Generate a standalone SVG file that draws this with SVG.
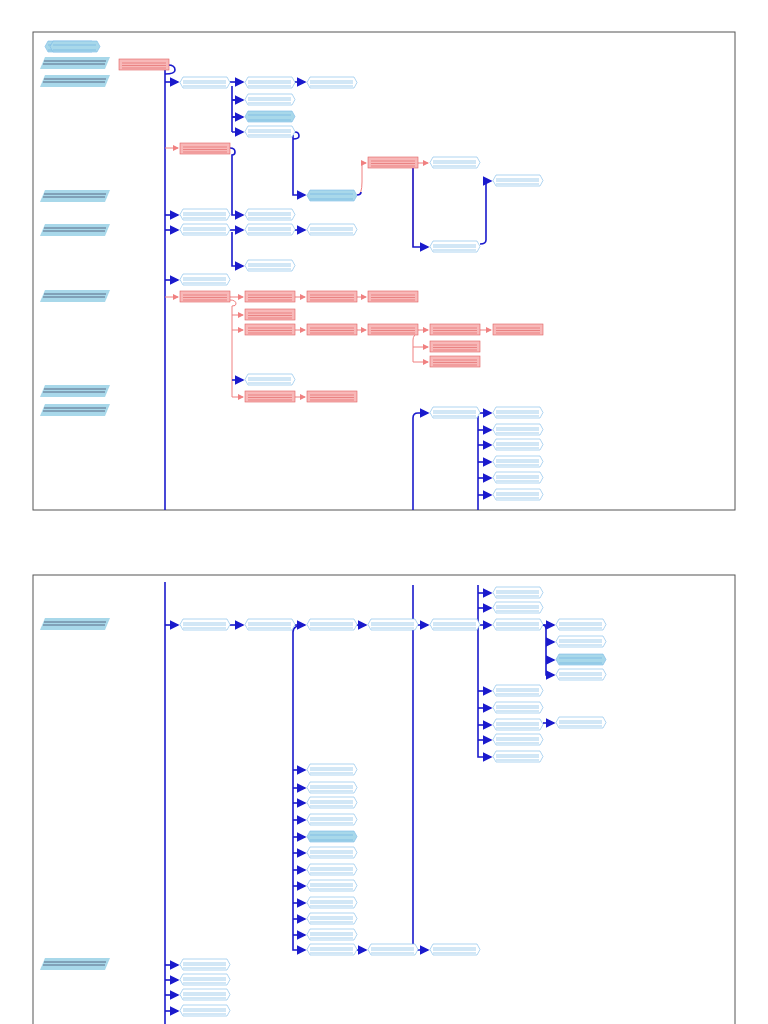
<svg xmlns="http://www.w3.org/2000/svg" xmlns:xlink="http://www.w3.org/1999/xlink" width="768" height="1024" viewBox="0 0 768 1024">
<style>
.pg{fill:#fff;stroke:#555;stroke-width:1}
.b{stroke:#1a1acc;stroke-width:1.6;fill:none}
.r{stroke:#f08080;stroke-width:1;fill:none}
.ln{stroke:#6ab0e0;stroke-width:0.6}
.rl{stroke:#e06060;stroke-width:0.6}
</style>
<defs>
<marker id="ab" markerWidth="6" markerHeight="6" refX="5" refY="3" orient="auto"><path d="M0,0L6,3L0,6z" fill="#1a1acc"/></marker>
<marker id="ar" markerWidth="6" markerHeight="6" refX="5" refY="3" orient="auto"><path d="M0,0L6,3L0,6z" fill="#f08080"/></marker>
<symbol id="hb" overflow="visible"><path d="M3,0H47L50,5.5L47,11H3L0,5.5z" fill="#fff" stroke="#7ab8e8" stroke-width="0.6"/><line x1="3" y1="4" x2="46" y2="4" class="ln"/><line x1="3" y1="6" x2="46" y2="6" class="ln"/><line x1="3" y1="9" x2="46" y2="9" class="ln"/></symbol>
<symbol id="hf" overflow="visible"><path d="M3,0H47L50,5.5L47,11H3L0,5.5z" fill="#a8d8ea" stroke="#7ab8e8" stroke-width="0.6"/><line x1="3" y1="4" x2="46" y2="4" class="ln"/><line x1="3" y1="9" x2="46" y2="9" class="ln"/></symbol>
<symbol id="rr" overflow="visible"><rect width="50" height="11" fill="#f8b8b8" stroke="#e06060" stroke-width="0.6"/><line x1="3" y1="4" x2="47" y2="4" class="rl"/><line x1="3" y1="6.5" x2="47" y2="6.5" class="rl"/><line x1="3" y1="9" x2="47" y2="9" class="rl"/></symbol>
<symbol id="pl" overflow="visible"><path d="M5,0H70L65,12H0z" fill="#a8d8ea"/><line x1="4" y1="4" x2="66" y2="4" stroke="#224" stroke-width="0.6"/><line x1="3" y1="7" x2="65" y2="7" stroke="#224" stroke-width="0.6"/></symbol>
</defs>
<rect width="768" height="1024" fill="#fff"/>
<rect x="33" y="32" width="702" height="478" class="pg"/>
<rect x="33" y="575" width="702" height="460" class="pg"/>

<g id="connectors">
<path class="b" d="M165,70V510"/>
<path class="b" d="M168,65Q175,65 175,70Q175,74 165,74"/>
<path class="b" d="M165,82H178" marker-end="url(#ab)"/>
<path class="b" d="M230,82H243" marker-end="url(#ab)"/>
<path class="b" d="M295,82H305" marker-end="url(#ab)"/>
<path class="b" d="M232,86V132M232,100H243M232,117H243M232,132H243" marker-end="url(#ab)"/>
<path class="b" d="M232,100H243" marker-end="url(#ab)"/>
<path class="b" d="M232,117H243" marker-end="url(#ab)"/>
<path class="r" d="M165,148H178" marker-end="url(#ar)"/>
<path class="b" d="M293,135V195H305" marker-end="url(#ab)"/>
<path class="b" d="M295,132Q299,132 299,136Q299,139 293,139"/>
<path class="b" d="M230,148Q235,148 235,152Q235,155 232,155V215H243" marker-end="url(#ab)"/>
<path class="b" d="M165,215H178" marker-end="url(#ab)"/>
<path class="r" d="M357,195Q362,195 362,182V163H366" marker-end="url(#ar)"/>
<path class="b" d="M357,195Q361,195 361,192" />
<path class="r" d="M418,163H428" marker-end="url(#ar)"/>
<path class="r" d="M413,168V247"/>
<path class="b" d="M413,168V247H428" marker-end="url(#ab)"/>
<path class="b" d="M480,244Q486,244 486,240V181H491" marker-end="url(#ab)"/>
<path class="b" d="M165,230H178" marker-end="url(#ab)"/>
<path class="b" d="M230,230H243" marker-end="url(#ab)"/>
<path class="b" d="M295,230H305" marker-end="url(#ab)"/>
<path class="b" d="M232,232V266H243" marker-end="url(#ab)"/>
<path class="b" d="M165,280H178" marker-end="url(#ab)"/>
<path class="r" d="M165,297H178" marker-end="url(#ar)"/>
<path class="r" d="M230,297H243" marker-end="url(#ar)"/>
<path class="r" d="M295,297H305" marker-end="url(#ar)"/>
<path class="r" d="M357,297H366" marker-end="url(#ar)"/>
<path class="r" d="M230,300Q236,300 236,304Q236,306 232,306V397H243" marker-end="url(#ar)"/>
<path class="r" d="M232,315H243" marker-end="url(#ar)"/>
<path class="r" d="M232,330H243" marker-end="url(#ar)"/>
<path class="b" d="M232,380H243" marker-end="url(#ab)"/>
<path class="r" d="M295,330H305" marker-end="url(#ar)"/>
<path class="r" d="M357,330H366" marker-end="url(#ar)"/>
<path class="r" d="M418,330H428" marker-end="url(#ar)"/>
<path class="r" d="M480,330H491" marker-end="url(#ar)"/>
<path class="r" d="M418,333Q413,335 413,340V362H428" marker-end="url(#ar)"/>
<path class="r" d="M413,347H428" marker-end="url(#ar)"/>
<path class="r" d="M295,397H305" marker-end="url(#ar)"/>
<path class="b" d="M413,418Q413,413 418,413H428" marker-end="url(#ab)"/>
<path class="b" d="M413,418V510"/>
<path class="b" d="M480,413H491" marker-end="url(#ab)"/>
<path class="b" d="M478,416V510"/>
<path class="b" d="M478,430H491" marker-end="url(#ab)"/>
<path class="b" d="M478,445H491" marker-end="url(#ab)"/>
<path class="b" d="M478,462H491" marker-end="url(#ab)"/>
<path class="b" d="M478,478H491" marker-end="url(#ab)"/>
<path class="b" d="M478,495H491" marker-end="url(#ab)"/>

<path class="b" d="M165,582V1024"/>
<path class="b" d="M165,625H178" marker-end="url(#ab)"/>
<path class="b" d="M230,625H243" marker-end="url(#ab)"/>
<path class="b" d="M295,625H305" marker-end="url(#ab)"/>
<path class="b" d="M357,625H366" marker-end="url(#ab)"/>
<path class="b" d="M418,625H428" marker-end="url(#ab)"/>
<path class="b" d="M480,625H491" marker-end="url(#ab)"/>
<path class="b" d="M413,585V950H428" marker-end="url(#ab)"/>
<path class="b" d="M478,585V757H491" marker-end="url(#ab)"/>
<path class="b" d="M478,593H491" marker-end="url(#ab)"/>
<path class="b" d="M478,608H491" marker-end="url(#ab)"/>
<path class="b" d="M478,691H491" marker-end="url(#ab)"/>
<path class="b" d="M478,708H491" marker-end="url(#ab)"/>
<path class="b" d="M478,725H491" marker-end="url(#ab)"/>
<path class="b" d="M478,740H491" marker-end="url(#ab)"/>
<path class="b" d="M543,723H554" marker-end="url(#ab)"/>
<path class="b" d="M543,625Q546,625 546,630V675H554" marker-end="url(#ab)"/>
<path class="b" d="M543,625H554" marker-end="url(#ab)"/>
<path class="b" d="M546,642H554" marker-end="url(#ab)"/>
<path class="b" d="M546,660H554" marker-end="url(#ab)"/>
<path class="b" d="M305,625Q293,625 293,632V950H305" marker-end="url(#ab)"/>
<path class="b" d="M293,770H305" marker-end="url(#ab)"/>
<path class="b" d="M293,788H305" marker-end="url(#ab)"/>
<path class="b" d="M293,803H305" marker-end="url(#ab)"/>
<path class="b" d="M293,820H305" marker-end="url(#ab)"/>
<path class="b" d="M293,837H305" marker-end="url(#ab)"/>
<path class="b" d="M293,853H305" marker-end="url(#ab)"/>
<path class="b" d="M293,870H305" marker-end="url(#ab)"/>
<path class="b" d="M293,886H305" marker-end="url(#ab)"/>
<path class="b" d="M293,903H305" marker-end="url(#ab)"/>
<path class="b" d="M293,919H305" marker-end="url(#ab)"/>
<path class="b" d="M293,935H305" marker-end="url(#ab)"/>
<path class="b" d="M357,950H366" marker-end="url(#ab)"/>
<path class="b" d="M165,965H178" marker-end="url(#ab)"/>
<path class="b" d="M165,980H178" marker-end="url(#ab)"/>
<path class="b" d="M165,995H178" marker-end="url(#ab)"/>
<path class="b" d="M165,1011H178" marker-end="url(#ab)"/>
</g>

<g id="legend"><use href="#hf" x="45" y="41"/><use href="#hf" x="50" y="41"/></g>
<g id="p1"><use href="#pl" x="40" y="57"/></g>
<g id="p2"><use href="#pl" x="40" y="75"/></g>
<g id="p3"><use href="#pl" x="40" y="190"/></g>
<g id="p4"><use href="#pl" x="40" y="224"/></g>
<g id="p5"><use href="#pl" x="40" y="290"/></g>
<g id="p6"><use href="#pl" x="40" y="385"/></g>
<g id="p7"><use href="#pl" x="40" y="404"/></g>
<g id="p8"><use href="#pl" x="40" y="618"/></g>
<g id="p9"><use href="#pl" x="40" y="958"/></g>

<g id="r0"><use href="#rr" x="119" y="59"/></g>
<g id="n1"><use href="#hb" x="180" y="77"/></g>
<g id="n2"><use href="#hb" x="245" y="77"/></g>
<g id="n3"><use href="#hb" x="307" y="77"/></g>
<g id="n4"><use href="#hb" x="245" y="94"/></g>
<g id="n5"><use href="#hf" x="245" y="111"/></g>
<g id="n6"><use href="#hb" x="245" y="126"/></g>
<g id="r1"><use href="#rr" x="180" y="143"/></g>
<g id="n7"><use href="#hf" x="307" y="190"/></g>
<g id="r2"><use href="#rr" x="368" y="157"/></g>
<g id="n8"><use href="#hb" x="430" y="157"/></g>
<g id="n9"><use href="#hb" x="430" y="241"/></g>
<g id="n10"><use href="#hb" x="493" y="175"/></g>
<g id="n11"><use href="#hb" x="180" y="209"/></g>
<g id="n12"><use href="#hb" x="245" y="209"/></g>
<g id="n13"><use href="#hb" x="180" y="224"/></g>
<g id="n14"><use href="#hb" x="245" y="224"/></g>
<g id="n15"><use href="#hb" x="307" y="224"/></g>
<g id="n16"><use href="#hb" x="245" y="260"/></g>
<g id="n17"><use href="#hb" x="180" y="274"/></g>
<g id="r3"><use href="#rr" x="180" y="291"/></g>
<g id="r4"><use href="#rr" x="245" y="291"/></g>
<g id="r5"><use href="#rr" x="307" y="291"/></g>
<g id="r6"><use href="#rr" x="368" y="291"/></g>
<g id="r7"><use href="#rr" x="245" y="309"/></g>
<g id="r8"><use href="#rr" x="245" y="324"/></g>
<g id="r9"><use href="#rr" x="307" y="324"/></g>
<g id="r10"><use href="#rr" x="368" y="324"/></g>
<g id="r11"><use href="#rr" x="430" y="324"/></g>
<g id="r12"><use href="#rr" x="493" y="324"/></g>
<g id="r13"><use href="#rr" x="430" y="341"/></g>
<g id="r14"><use href="#rr" x="430" y="356"/></g>
<g id="n18"><use href="#hb" x="245" y="374"/></g>
<g id="r15"><use href="#rr" x="245" y="391"/></g>
<g id="r16"><use href="#rr" x="307" y="391"/></g>
<g id="n19"><use href="#hb" x="430" y="407"/></g>
<g id="n20"><use href="#hb" x="493" y="407"/></g>
<g id="n21"><use href="#hb" x="493" y="424"/></g>
<g id="n22"><use href="#hb" x="493" y="439"/></g>
<g id="n23"><use href="#hb" x="493" y="456"/></g>
<g id="n24"><use href="#hb" x="493" y="472"/></g>
<g id="n25"><use href="#hb" x="493" y="489"/></g>

<g id="m1"><use href="#hb" x="180" y="619"/></g>
<g id="m2"><use href="#hb" x="245" y="619"/></g>
<g id="m3"><use href="#hb" x="307" y="619"/></g>
<g id="m4"><use href="#hb" x="368" y="619"/></g>
<g id="m5"><use href="#hb" x="430" y="619"/></g>
<g id="m6"><use href="#hb" x="493" y="619"/></g>
<g id="m7"><use href="#hb" x="493" y="587"/></g>
<g id="m8"><use href="#hb" x="493" y="602"/></g>
<g id="m9"><use href="#hb" x="556" y="619"/></g>
<g id="m10"><use href="#hb" x="556" y="636"/></g>
<g id="m11"><use href="#hf" x="556" y="654"/></g>
<g id="m12"><use href="#hb" x="556" y="669"/></g>
<g id="m13"><use href="#hb" x="493" y="685"/></g>
<g id="m14"><use href="#hb" x="493" y="702"/></g>
<g id="m15"><use href="#hb" x="493" y="719"/></g>
<g id="m16"><use href="#hb" x="556" y="717"/></g>
<g id="m17"><use href="#hb" x="493" y="734"/></g>
<g id="m18"><use href="#hb" x="493" y="751"/></g>
<g id="m19"><use href="#hb" x="307" y="764"/></g>
<g id="m20"><use href="#hb" x="307" y="782"/></g>
<g id="m21"><use href="#hb" x="307" y="797"/></g>
<g id="m22"><use href="#hb" x="307" y="814"/></g>
<g id="m23"><use href="#hf" x="307" y="831"/></g>
<g id="m24"><use href="#hb" x="307" y="847"/></g>
<g id="m25"><use href="#hb" x="307" y="864"/></g>
<g id="m26"><use href="#hb" x="307" y="880"/></g>
<g id="m27"><use href="#hb" x="307" y="897"/></g>
<g id="m28"><use href="#hb" x="307" y="913"/></g>
<g id="m29"><use href="#hb" x="307" y="929"/></g>
<g id="m30"><use href="#hb" x="307" y="944"/></g>
<g id="m31"><use href="#hb" x="368" y="944"/></g>
<g id="m32"><use href="#hb" x="430" y="944"/></g>
<g id="m33"><use href="#hb" x="180" y="959"/></g>
<g id="m34"><use href="#hb" x="180" y="974"/></g>
<g id="m35"><use href="#hb" x="180" y="989"/></g>
<g id="m36"><use href="#hb" x="180" y="1005"/></g>
</svg>
